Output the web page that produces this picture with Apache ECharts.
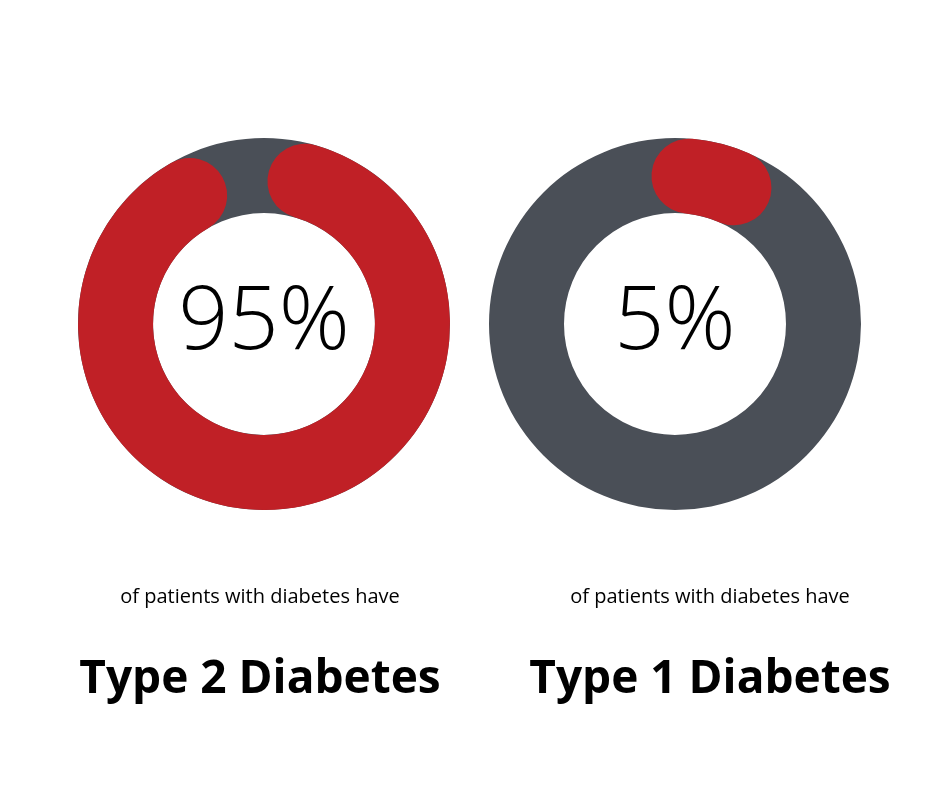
<!DOCTYPE html><html><head><meta charset="utf-8">
<script src="https://cdn.jsdelivr.net/npm/echarts@6/dist/echarts.min.js"></script>
<style>html,body{margin:0;background:#fff}#c{width:940px;height:788px}</style></head><body><div id="c"></div>
<script>
const labels=['95%','5%'];
const values=[95,5];
const captions=['of patients with diabetes have','of patients with diabetes have'];
const titles=['Type 2 Diabetes','Type 1 Diabetes'];
const centers=[[264,324],[675,324]];
const starts=[74,84.6];
const spans=[330.5,360];
const red='#c02026',gray='#4a4f57';
const series=[];
values.forEach((v,i)=>{
 series.push({type:'gauge',center:centers[i],radius:186,startAngle:90,endAngle:-270,min:0,max:100,
  axisLine:{lineStyle:{width:75,color:[[1,gray]]}},axisTick:{show:false},splitLine:{show:false},axisLabel:{show:false},pointer:{show:false},detail:{show:false},data:[{value:0}],silent:true});
 series.push({type:'gauge',center:centers[i],radius:186,startAngle:starts[i],endAngle:starts[i]-spans[i],min:0,max:100,
  axisLine:{show:false},progress:{show:true,roundCap:true,width:75,itemStyle:{color:red}},
  axisTick:{show:false},splitLine:{show:false},axisLabel:{show:false},pointer:{show:false},
  detail:{show:true,offsetCenter:[0,0],valueAnimation:false,fontSize:88,fontFamily:'Open Sans',fontWeight:300,color:'#000',formatter:()=>labels[i]},
  data:[{value:v}]});
});
const title=[];
[255,705].forEach((x,i)=>{
 title.push({text:captions[i],left:x,top:582,textAlign:'center',textStyle:{fontSize:20,fontWeight:'normal',fontFamily:'Open Sans',color:'#000'}});
 title.push({text:titles[i],left:x,top:652,textAlign:'center',textStyle:{fontSize:46,fontWeight:'bold',fontFamily:'Open Sans',color:'#000'}});
});
const ch=echarts.init(document.getElementById('c'));
ch.setOption({animation:false,title,series});
</script></body></html>
